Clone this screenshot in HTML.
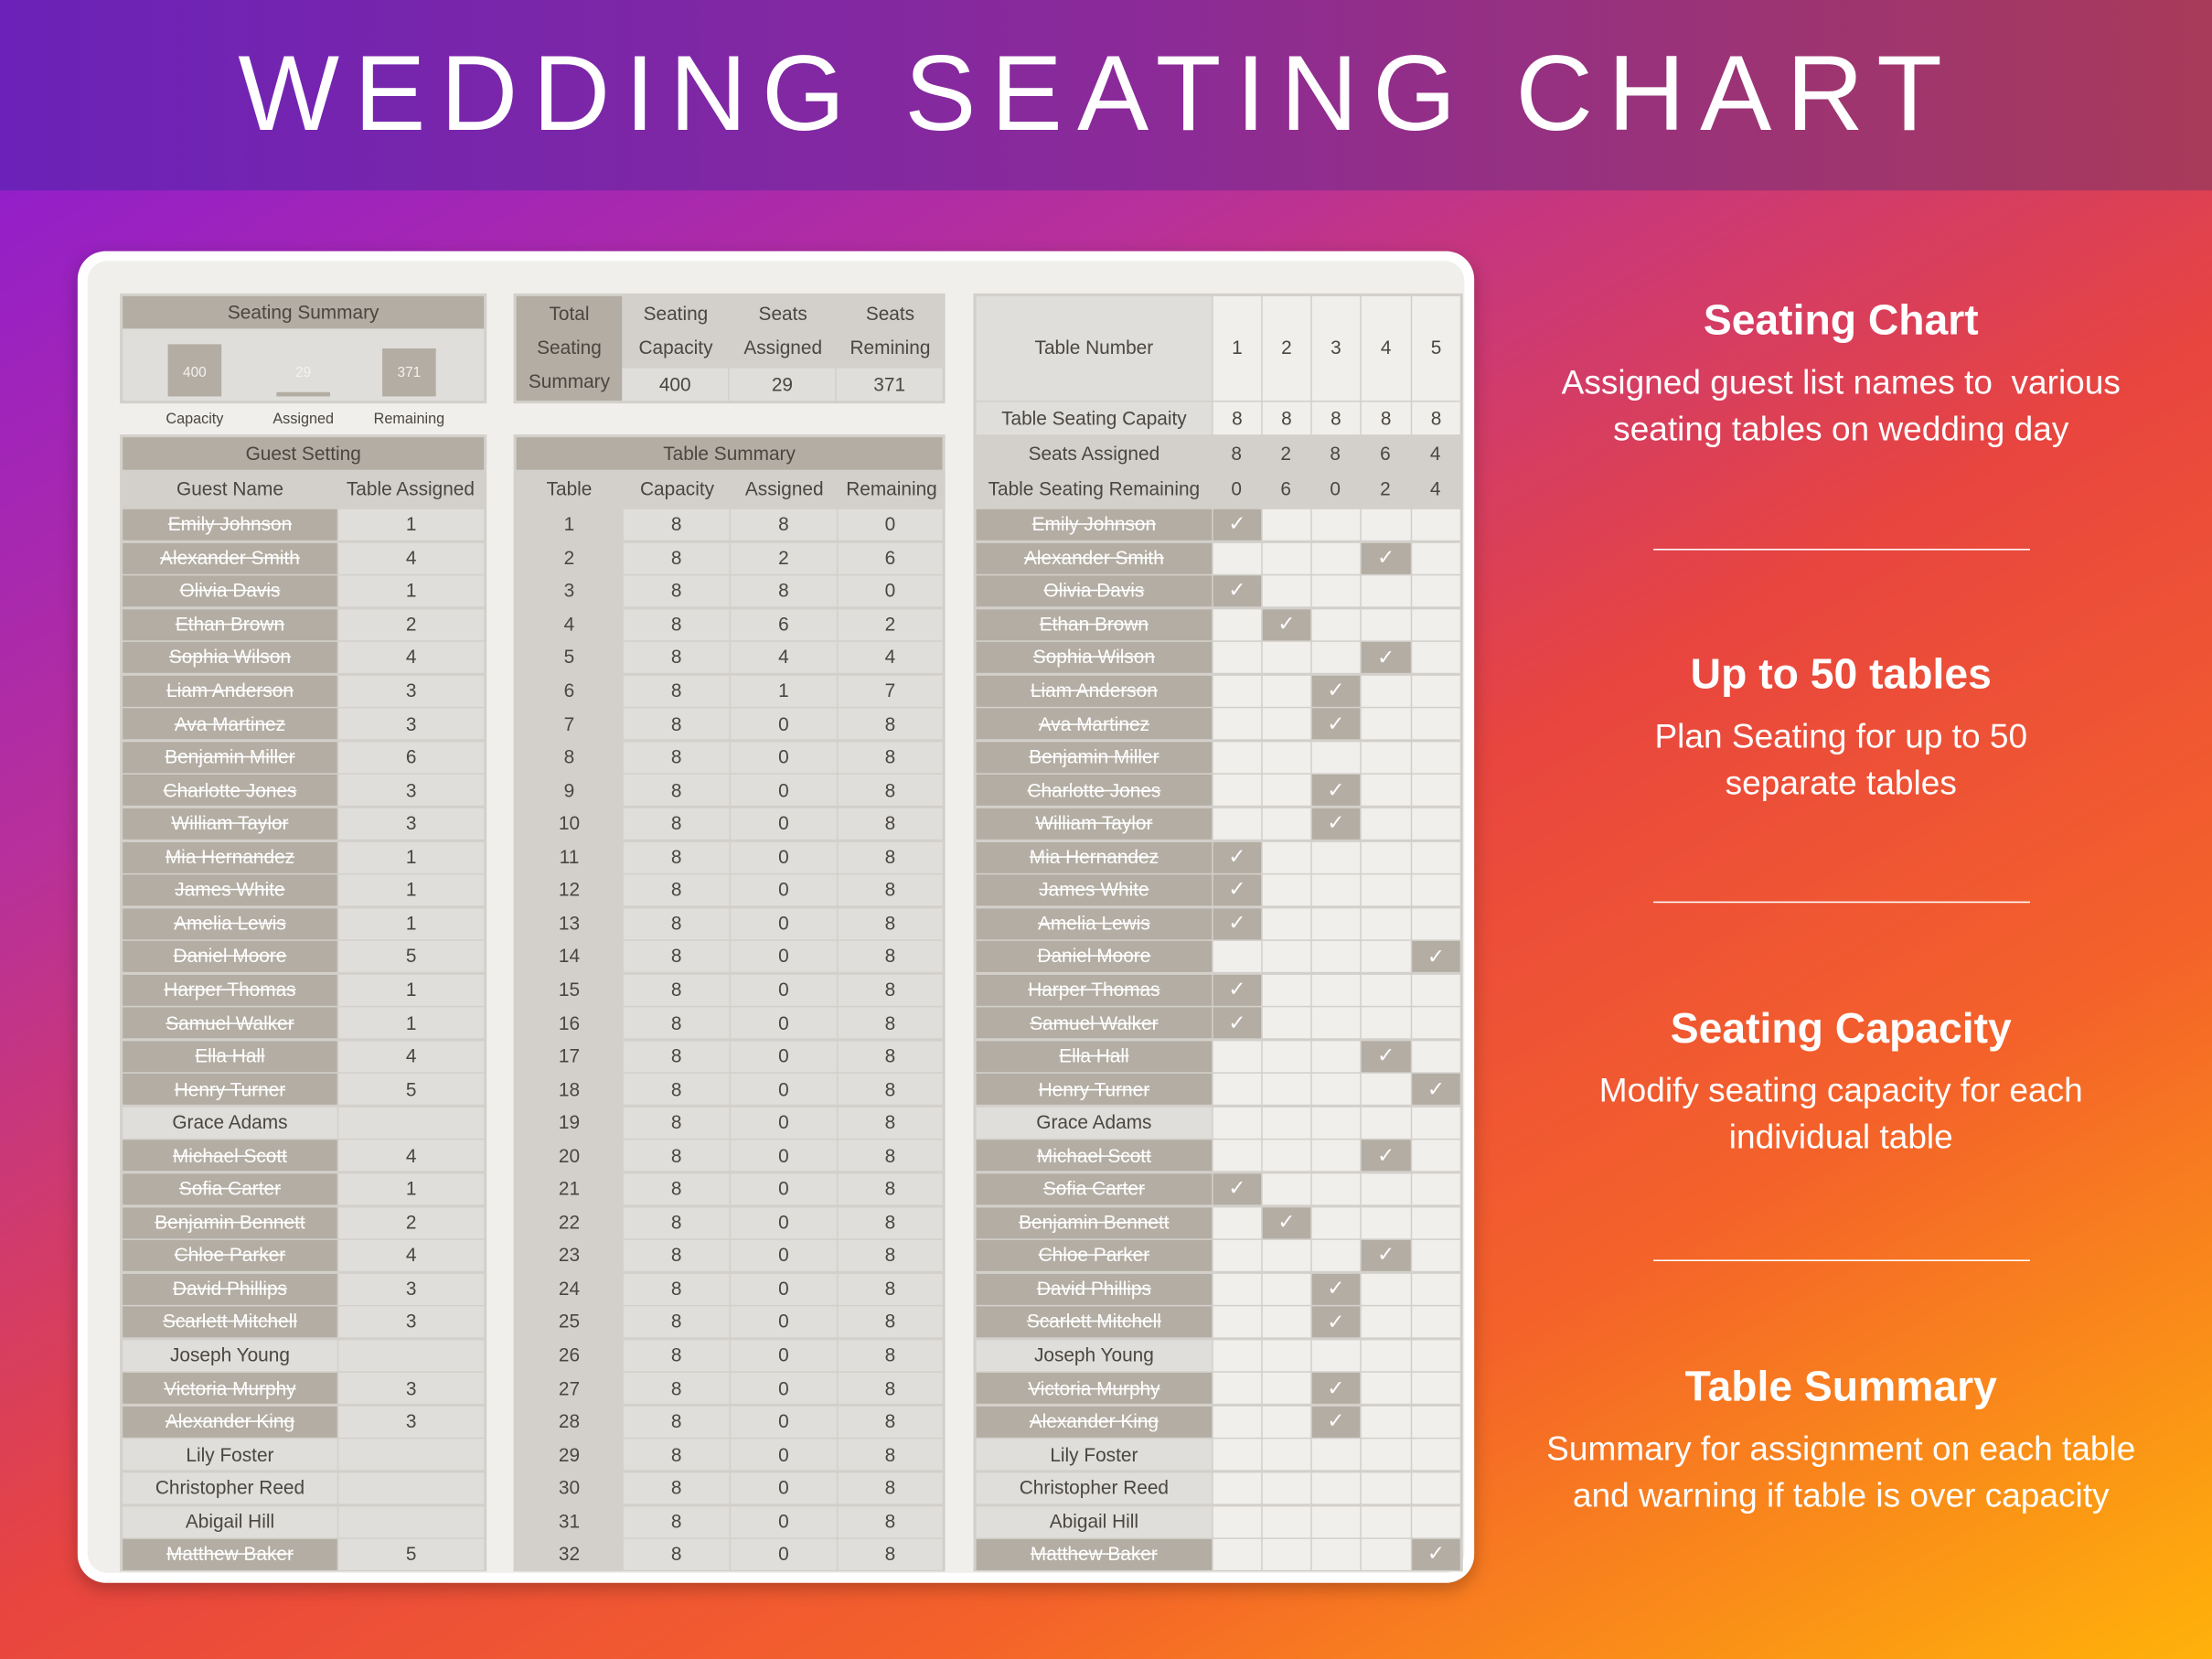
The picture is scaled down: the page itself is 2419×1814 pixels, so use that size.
<!DOCTYPE html>
<html><head><meta charset="utf-8">
<style>
html,body{margin:0;padding:0;width:2419px;height:1814px;overflow:hidden;}
#stage{position:absolute;left:0;top:0;width:1568px;height:1176px;transform:scale(1.54273,1.54252);transform-origin:0 0;overflow:hidden;
background:linear-gradient(150deg,#8a1ad6 0%,#b8309a 30%,#e8453f 55%,#f4622a 75%,#ffb20a 100%);font-family:"Liberation Sans",sans-serif;}
#header{position:absolute;left:0;top:0;width:1568px;height:135px;background:linear-gradient(90deg,#6b22b8 0%,#8a2a9a 50%,#a83a5a 100%);}
#title{position:absolute;left:-6px;top:24px;width:1568px;text-align:center;color:#fff;font-size:76px;letter-spacing:10.5px;font-weight:normal;line-height:86px;}
#card{position:absolute;left:55px;top:178px;width:990px;height:944px;background:#fff;border-radius:20px;box-shadow:0 4px 12px rgba(0,0,0,.25);}
#inner{position:absolute;left:62px;top:185px;width:976px;height:930px;background:#f0efec;border-radius:14px;}
.c{position:absolute;box-sizing:border-box;display:flex;align-items:center;justify-content:center;text-align:center;color:#4a4640;font-size:13.5px;line-height:1.15;}
.dk{background:#b3ada3;}
.md{background:#d3d0cb;}
.lt{background:#dfdedb;}
.wh{background:#f0efec;}
.s{color:#fff;text-decoration:line-through;}
.side{position:absolute;left:1060px;width:490px;text-align:center;color:#fff;}
.side h2{margin:0;font-size:30px;font-weight:bold;}
.side p{margin:10px 0 0;font-size:24px;line-height:33px;}
.div{position:absolute;left:1172px;width:267px;height:1px;background:#fff;}
</style></head><body>
<div id="stage">
<div id="header"><div id="title">WEDDING SEATING CHART</div></div>
<div id="card"></div>
<div id="inner"></div>
<div id="cells"></div>
<div class="side" style="top:211px"><h2>Seating Chart</h2><p>Assigned guest list names to&nbsp; various<br>seating tables on wedding day</p></div>
<div class="div" style="top:389px"></div>
<div class="side" style="top:462px"><h2>Up to 50 tables</h2><p>Plan Seating for up to 50<br>separate tables</p></div>
<div class="div" style="top:639px"></div>
<div class="side" style="top:713px"><h2>Seating Capacity</h2><p>Modify seating capacity for each<br>individual table</p></div>
<div class="div" style="top:893px"></div>
<div class="side" style="top:967px"><h2>Table Summary</h2><p>Summary for assignment on each table<br>and warning if table is over capacity</p></div>
</div>
<script>
const guests=["Emily Johnson","Alexander Smith","Olivia Davis","Ethan Brown","Sophia Wilson","Liam Anderson","Ava Martinez","Benjamin Miller","Charlotte Jones","William Taylor","Mia Hernandez","James White","Amelia Lewis","Daniel Moore","Harper Thomas","Samuel Walker","Ella Hall","Henry Turner","Grace Adams","Michael Scott","Sofia Carter","Benjamin Bennett","Chloe Parker","David Phillips","Scarlett Mitchell","Joseph Young","Victoria Murphy","Alexander King","Lily Foster","Christopher Reed","Abigail Hill","Matthew Baker"];
const tableAssigned=[1,4,1,2,4,3,3,6,3,3,1,1,1,5,1,1,4,5,null,4,1,2,4,3,3,null,3,3,null,null,null,5];
const tableNums=[1,2,3,4,5,6,7,8,9,10,11,12,13,14,15,16,17,18,19,20,21,22,23,24,25,26,27,28,29,30,31,32];
const tableCapacity=[8,8,8,8,8,8,8,8,8,8,8,8,8,8,8,8,8,8,8,8,8,8,8,8,8,8,8,8,8,8,8,8];
const tableSeatsAssigned=[8,2,8,6,4,1,0,0,0,0,0,0,0,0,0,0,0,0,0,0,0,0,0,0,0,0,0,0,0,0,0,0];
const summaryLabels=["Capacity","Assigned","Remaining"];
const summaryValues=[400,29,371];

const root=document.getElementById('cells');
function cell(x,y,w,h,cls,txt,name,inter){
  const d=document.createElement('div');
  d.className='c '+cls;
  d.style.left=x+'px';d.style.top=y+'px';d.style.width=w+'px';d.style.height=h+'px';
  if(txt!==undefined&&txt!==null)d.innerHTML=txt;
  
  
  root.appendChild(d);return d;
}
cell(85,208,260,78,'md','', 'seating-summary-panel',false);
cell(85,308,260,806,'md','', 'guest-setting-panel',false);
cell(364,208,306,78,'md','', 'totals-panel',false);
cell(364,308,306,806,'md','', 'table-summary-panel',false);
cell(690,208,347,906,'md','', 'seating-grid-panel',false);

cell(87,210,256,23,'dk','Seating Summary','seating-summary-title',false);
cell(87,233,256,51,'lt','', 'summary-chart-area',false);
const centers=[138,215,290], base=281, maxH=37;
summaryValues.forEach((v,i)=>{
  const h=Math.max(2,v/400*maxH);
  cell(centers[i]-19,base-h,38,h,'dk','', 'summary-bar-'+summaryLabels[i].toLowerCase(),false);
  const t=cell(centers[i]-19,base-26,38,20,'', String(v),'summary-bar-value',false);
  t.style.color='#f4f2ee';t.style.fontSize='10px';
  const l=cell(centers[i]-38,289,76,16,'',summaryLabels[i],'summary-axis-label',false);
  l.style.fontSize='10.5px';
});

cell(366,210,75,74,'dk','Total<br>Seating<br>Summary','total-seating-summary-label',false).style.lineHeight='24px';
[['Seating<br>Capacity',0],['Seats<br>Assigned',1],['Seats<br>Remining',2]].forEach((p,i)=>{
  const x=441+i*76;
  cell(x,210,76,50,'md',p[0],'totals-header',false).style.lineHeight='24px';
  cell(x,261,75,23,'lt',String(summaryValues[i]),'totals-value',false);
});

cell(87,310,256,23,'dk','Guest Setting','guest-setting-title',false);
cell(87,335,152,24,'md','Guest Name','guest-name-header',false);
cell(239,335,104,24,'md','Table Assigned','table-assigned-header',false);
cell(366,310,302,23,'dk','Table Summary','table-summary-title',false);
['Table','Capacity','Assigned','Remaining'].forEach((t,i)=>cell(366+i*76,335,i?76:75,24,'md',t,'table-summary-header',false));
const gx=[859,894,929,964,1000], gw=[35,35,35,36,35];
cell(692,210,167,74,'lt','Table Number','table-number-header',false);
cell(692,285,167,23,'lt','Table Seating Capaity','grid-capacity-label',false);
cell(692,310,167,24,'md','Seats Assigned','grid-assigned-label',false);
cell(692,335,167,24,'md','Table Seating Remaining','grid-remaining-label',false);
for(let j=0;j<5;j++){
  cell(gx[j]+1,210,gw[j]-1,74,'wh',String(tableNums[j]),'grid-table-number',false);
  cell(gx[j]+1,285,gw[j]-1,23,'wh',String(tableCapacity[j]),'grid-capacity',false);
  cell(gx[j],310,gw[j],24,'md',String(tableSeatsAssigned[j]),'grid-assigned',false);
  cell(gx[j],335,gw[j],24,'md',String(tableCapacity[j]-tableSeatsAssigned[j]),'grid-remaining',false);
}
const top0=361, rh=23.55;
for(let i=0;i<32;i++){
  const y=top0+i*rh, h=rh-1.5;
  const a=tableAssigned[i];
  const has=a!==null;
  cell(87,y,152,h,has?'dk s':'lt',guests[i],'guest-name',true);
  cell(240,y,103,h,'lt',has?String(a):'','guest-table-assigned',true);
  cell(366,y,75,h,'md',String(tableNums[i]),'table-number',false);
  cell(442,y,75,h,'lt',String(tableCapacity[i]),'table-capacity',true);
  cell(518,y,75,h,'lt',String(tableSeatsAssigned[i]),'table-assigned',false);
  cell(594,y,74,h,'lt',String(tableCapacity[i]-tableSeatsAssigned[i]),'table-remaining',false);
  cell(692,y,167,h,has?'dk s':'lt',guests[i],'grid-guest-name',false);
  for(let j=0;j<5;j++){
    const on=a===j+1;
    const c=cell(gx[j]+1,y,gw[j]-1,h,on?'dk':'wh',on?'✓':'','grid-check-cell',true);
    if(on){c.style.color='#fff';c.style.fontSize='15px';}
  }
}
</script>
</body></html>
